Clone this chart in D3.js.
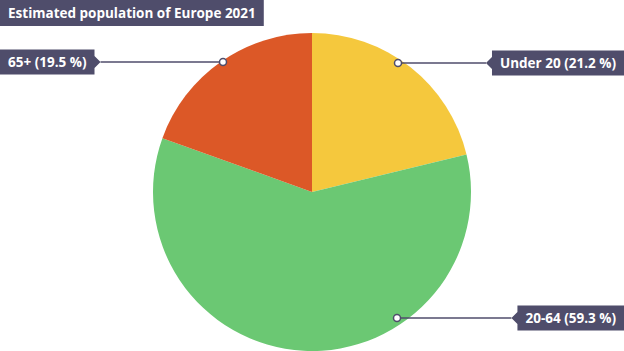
<!DOCTYPE html>
<html>
<head>
<meta charset="utf-8">
<script src="https://cdn.jsdelivr.net/npm/d3@7"></script>
<style>
  body { margin: 0; background: #fff; }
  text { font-family: "Open Sans", Lato, sans-serif; font-weight: 700; }
</style>
</head>
<body>
<div id="chart"></div>
<script>
var titleText = "Estimated population of Europe 2021";
var groups = ["Under 20", "20-64", "65+"];
var shares = [21.2, 59.3, 19.5];
var colours = ["#F5C83D", "#6BC873", "#DC5827"];

var width = 624, height = 351;
var cx = 312, cy = 192, r = 159;
var boxFill = "#4F4D6B";

var svg = d3.select("#chart").append("svg")
	.attr("width", width)
	.attr("height", height);

var data = groups.map(function(g, i) { return { name: g, value: shares[i], colour: colours[i] }; });

var pie = d3.pie().sort(null).value(function(d) { return d.value; });
var arc = d3.arc().innerRadius(0).outerRadius(r);

var g = svg.append("g").attr("transform", "translate(" + cx + "," + cy + ")");

g.selectAll("path")
	.data(pie(data))
  .enter().append("path")
	.attr("d", arc)
	.attr("fill", function(d) { return d.data.colour; });

// label placements: dot position (relative to pie) and box side
var labelPos = [
	{ dotX: 86, dotY: -129, side: "right", boxY: 63 },
	{ dotX: 85, dotY: 126, side: "right", boxY: 318 },
	{ dotX: -89, dotY: -130, side: "left", boxY: 62 }
];

data.forEach(function(d, i) {
	var p = labelPos[i];
	var label = d.name + " (" + d.value + " %)";
	var lg = svg.append("g");
	var t = lg.append("text")
		.attr("font-size", "13.5px")
		.attr("fill", "#fff")
		.attr("dy", "0.35em")
		.text(label);
	var tw = t.node().getComputedTextLength();
	var padX = 8, h = 25;
	var boxX, tipX;
	if (p.side === "right") {
		boxX = width - tw - 2 * padX;
		tipX = boxX - 6;
	} else {
		boxX = 0;
		tipX = tw + 2 * padX + 6;
	}
	var bw = tw + 2 * padX;
	var dx = cx + p.dotX, dy = cy + p.dotY;

	lg.insert("line", "text")
		.attr("x1", dx).attr("y1", dy)
		.attr("x2", tipX).attr("y2", p.boxY)
		.attr("stroke", boxFill)
		.attr("stroke-width", 1.5);

	var pts;
	if (p.side === "right") {
		pts = [[boxX, p.boxY - h / 2], [boxX + bw, p.boxY - h / 2], [boxX + bw, p.boxY + h / 2], [boxX, p.boxY + h / 2], [boxX, p.boxY + 6], [tipX, p.boxY], [boxX, p.boxY - 6]];
	} else {
		pts = [[0, p.boxY - h / 2], [bw, p.boxY - h / 2], [bw, p.boxY - 6], [tipX, p.boxY], [bw, p.boxY + 6], [bw, p.boxY + h / 2], [0, p.boxY + h / 2]];
	}
	lg.insert("polygon", "text")
		.attr("points", pts.map(function(q) { return q.join(","); }).join(" "))
		.attr("fill", boxFill);

	t.attr("x", boxX + padX).attr("y", p.boxY);

	lg.append("circle")
		.attr("cx", dx).attr("cy", dy)
		.attr("r", 3.5)
		.attr("fill", "#fff")
		.attr("stroke", boxFill)
		.attr("stroke-width", 1.5);
});

// title
var title = svg.append("g");
var tt = title.append("text")
	.attr("x", 8).attr("y", 13)
	.attr("dy", "0.35em")
	.attr("font-size", "13.5px")
	.attr("fill", "#fff")
	.text(titleText);
var ttw = tt.node().getComputedTextLength();
title.insert("rect", "text")
	.attr("x", 0).attr("y", 0)
	.attr("width", ttw + 16).attr("height", 26)
	.attr("fill", boxFill);
</script>
</body>
</html>
